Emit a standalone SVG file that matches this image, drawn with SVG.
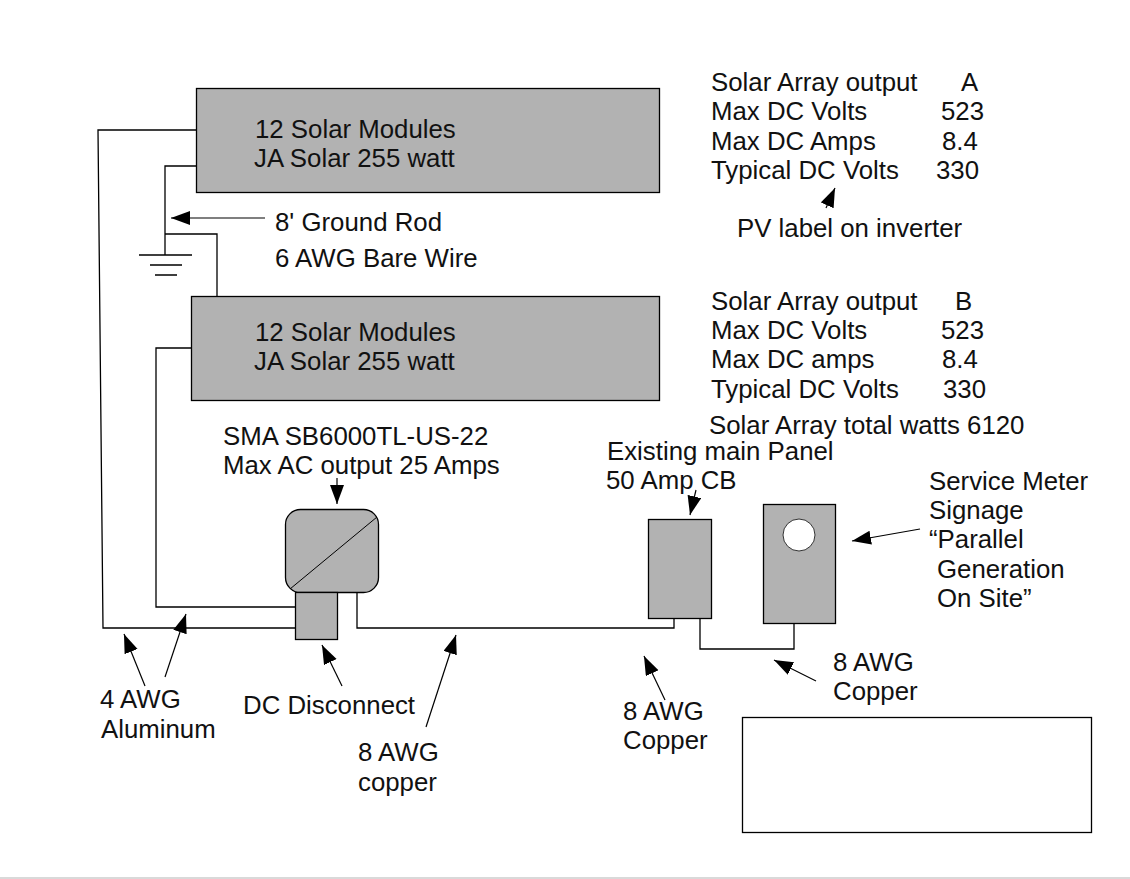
<svg xmlns="http://www.w3.org/2000/svg" width="1130" height="879" viewBox="0 0 1130 879">
<style>
text{font-family:"Liberation Sans",Arial,sans-serif;font-size:25.8px;fill:#111}
.box{fill:#b2b2b2;stroke:#000;stroke-width:1.3}
.wire{fill:none;stroke:#000;stroke-width:1.3}
.arr{fill:none;stroke:#000;stroke-width:1.2;marker-end:url(#ah)}
</style>
<defs><marker id="ah" markerUnits="userSpaceOnUse" markerWidth="20" markerHeight="16" refX="19" refY="7" orient="auto"><path d="M0,0 L19,7 L0,14 Z" fill="#000"/></marker></defs>
<rect width="1130" height="879" fill="#fff"/>
<line x1="0" y1="878" x2="1130" y2="878" stroke="#ccc" stroke-width="1.5"/>
<g id="connectors">
<path class="wire" d="M196,130 H98 L103,628 H295"/>
<path class="wire" d="M191,348 H156 V607 H295"/>
<path class="wire" d="M196,166 H165 V255"/>
<path class="wire" d="M165,234 H217 V296"/>
<path class="wire" d="M357,592 V628 H674 V618"/>
<path class="wire" d="M700,618 V649 H794 V623"/>
<path class="arr" d="M265,218 H171"/>
<path class="arr" d="M337,478 V504"/>
<path class="arr" d="M696,490 L690,515"/>
<path class="arr" d="M920,529 L852,541"/>
<path class="arr" d="M816,681 L774,660"/>
<path class="arr" d="M665,700 L644,656"/>
<path class="arr" d="M426,727 L456,635"/>
<path class="arr" d="M342,686 L322,645"/>
<path class="arr" d="M145,686 L124,634"/>
<path class="arr" d="M165,677 L186,614"/>
<path class="arr" d="M826,208 L835,188"/>
</g>
<g id="ground"><path class="wire" d="M139,255 H192 M150,265 H182 M155,275 H177"/></g>
<g id="array-a"><rect class="box" x="196.500" y="88.500" width="463" height="104"/><text x="255" y="138">12 Solar Modules</text><text x="254" y="167">JA Solar 255 watt</text></g>
<g id="array-b"><rect class="box" x="191.500" y="296.500" width="468" height="104"/><text x="255" y="341">12 Solar Modules</text><text x="254" y="370">JA Solar 255 watt</text></g>
<g id="inverter"><rect class="box" x="285.500" y="509.500" width="93" height="83" rx="15"/><line x1="290" y1="589" x2="377" y2="517" stroke="#000" stroke-width="1"/></g>
<g id="disconnect"><rect class="box" x="295.500" y="592.500" width="42" height="47"/></g>
<g id="panel"><rect class="box" x="648.500" y="519.500" width="63" height="99"/></g>
<g id="meter"><rect class="box" x="763.500" y="504.500" width="72" height="119"/><circle cx="799" cy="535" r="16" fill="#fff" stroke="#333"/></g>
<g id="blank-box"><rect x="742.500" y="717.500" width="349" height="115" fill="#fff" stroke="#000" stroke-width="1.3"/></g>
<g id="labels">
<text x="711" y="91">Solar Array output</text><text x="961" y="91">A</text>
<text x="711" y="120">Max DC Volts</text><text x="941" y="120">523</text>
<text x="711" y="150">Max DC Amps</text><text x="942" y="150">8.4</text>
<text x="711" y="179">Typical DC Volts</text><text x="936" y="179">330</text>
<text x="737" y="237">PV label on inverter</text>
<text x="275" y="231">8' Ground Rod</text>
<text x="275" y="267">6 AWG Bare Wire</text>
<text x="711" y="310">Solar Array output</text><text x="955" y="310">B</text>
<text x="711" y="339">Max DC Volts</text><text x="941" y="339">523</text>
<text x="711" y="368">Max DC amps</text><text x="942" y="368">8.4</text>
<text x="711" y="398">Typical DC Volts</text><text x="943" y="398">330</text>
<text x="709" y="434">Solar Array total watts 6120</text>
<text x="223" y="445">SMA SB6000TL-US-22</text>
<text x="223" y="474">Max AC output 25 Amps</text>
<text x="607" y="460">Existing main Panel</text>
<text x="606" y="489">50 Amp CB</text>
<text x="929" y="490">Service Meter</text>
<text x="929" y="519">Signage</text>
<text x="929" y="548">“Parallel</text>
<text x="937" y="578">Generation</text>
<text x="937" y="607">On Site”</text>
<text x="100" y="708">4 AWG</text>
<text x="101" y="738">Aluminum</text>
<text x="243" y="714">DC Disconnect</text>
<text x="358" y="761">8 AWG</text>
<text x="358" y="791">copper</text>
<text x="623" y="720">8 AWG</text>
<text x="623" y="749">Copper</text>
<text x="833" y="671">8 AWG</text>
<text x="833" y="700">Copper</text>
</g>
</svg>
